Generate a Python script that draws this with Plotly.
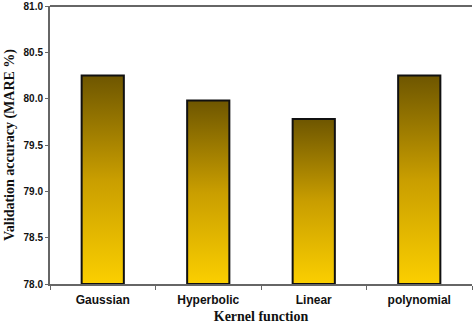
import plotly.graph_objects as go

categories = ["Gaussian", "Hyperbolic", "Linear", "polynomial"]
values = [80.25, 79.98, 79.78, 80.25]
y_ticks = [78.0, 78.5, 79.0, 79.5, 80.0, 80.5, 81.0]
base = 78.0
half_width = 0.2

fig = go.Figure()

# invisible bar trace establishing the categorical axis
fig.add_trace(go.Bar(
    x=categories, y=[v - base for v in values], base=base,
    marker=dict(color="rgba(0,0,0,0)", line=dict(width=0)),
    width=2 * half_width, showlegend=False, hoverinfo="skip",
))

# gradient-filled bars on an overlaid numeric axis
for i, v in enumerate(values):
    xs = [i - half_width, i - half_width, i + half_width, i + half_width, i - half_width]
    ys = [base, v, v, base, base]
    fig.add_trace(go.Scatter(
        x=xs, y=ys, xaxis="x2", mode="lines", fill="toself",
        fillgradient=dict(type="vertical",
                          colorscale=[[0, "#fbcf00"], [0.5, "#c99e00"], [1, "#6e5600"]]),
        line=dict(color="#111111", width=2),
        showlegend=False, hoverinfo="skip", name=categories[i],
    ))

fig.update_layout(
    width=474, height=324,
    margin=dict(l=50, r=2, t=6, b=40),
    paper_bgcolor="white", plot_bgcolor="white",
    showlegend=False,
    xaxis=dict(
        type="category", range=[-0.5, 3.5], tickson="boundaries", automargin=False,
        ticks="outside", ticklen=4, tickcolor="#666666",
        ticklabelstandoff=4,
        showline=True, linecolor="#666666", linewidth=2,
        mirror=False, showgrid=False, zeroline=False,
        tickfont=dict(family="Arial, Liberation Sans", size=12, color="#111111", weight="bold"),
        title=dict(text="Kernel function", standoff=10,
                   font=dict(family="Times New Roman, Liberation Serif", size=14, color="#111111", weight="bold")),
    ),
    xaxis2=dict(overlaying="x", range=[-0.5, 3.5], visible=False, showgrid=False, zeroline=False),
    yaxis=dict(
        range=[78, 81], tickvals=y_ticks, tickformat=".1f", automargin=False,
        ticks="outside", ticklen=3, tickcolor="#666666",
        showline=True, linecolor="#666666", linewidth=2,
        showgrid=False, zeroline=False,
        tickfont=dict(family="Arial, Liberation Sans", size=10, color="#111111", weight="bold"),
        title=dict(text="Validation accuracy (MARE %)", standoff=6,
                   font=dict(family="Times New Roman, Liberation Serif", size=14, color="#111111", weight="bold")),
    ),
    shapes=[dict(type="line", xref="paper", yref="paper", x0=0, x1=1, y0=1, y1=1,
                 line=dict(color="#666666", width=2))],
)

fig.write_html("out.html")
